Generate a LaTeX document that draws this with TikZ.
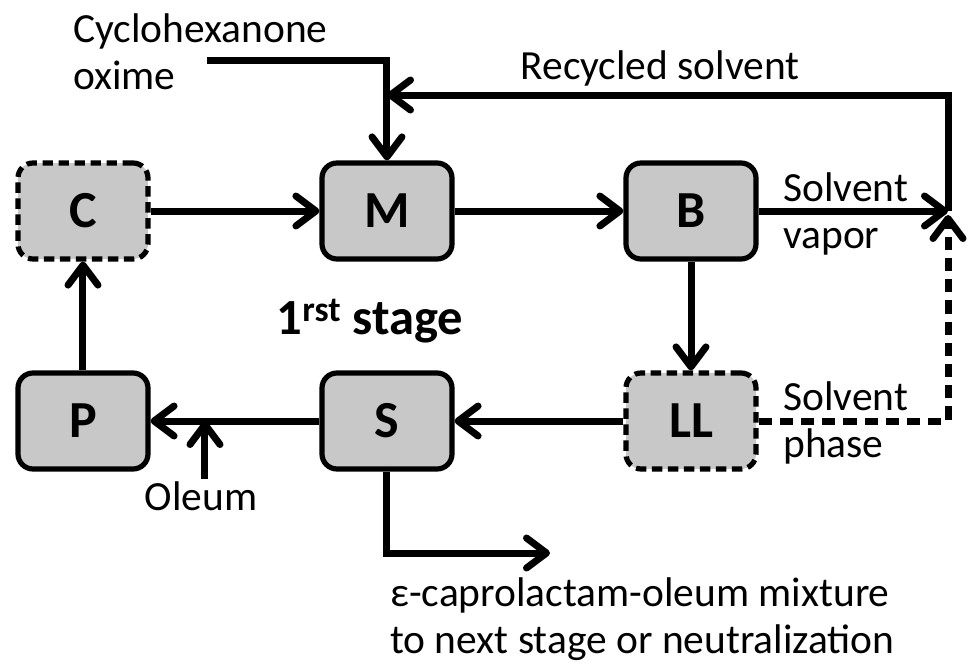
\documentclass[tikz,border=0pt]{standalone}
\usepackage{fontspec}
\setmainfont{Carlito}
\usepackage{tikz}
\usetikzlibrary{positioning,arrows.meta}
\definecolor{boxgray}{RGB}{200,200,200}
\newcommand{\labelfont}{\fontsize{29.5}{33.4}\selectfont}
\newcommand{\unitfont}{\fontsize{37}{40}\selectfont\bfseries}
\tikzset{
  unit/.style={draw, rounded corners=0.375cm, fill=boxgray, minimum width=3.25cm,
    minimum height=2.4cm, line width=0.13cm, font=\unitfont},
  dunit/.style={unit, dash pattern=on 0.26cm off 0.14cm},
  flow/.style={line width=0.175cm, -{Straight Barb[length=0.5cm, width=0.75cm, round]}},
  txt/.style={font=\labelfont, align=left, inner sep=0pt}
}

\begin{document}
\begin{tikzpicture}
        \useasboundingbox (-9.675,5.275) rectangle (14.825,-11.375);
        % units
        \node [unit] (M) at (0,0) {M};
        \node [dunit, on grid, left=7.6cm of M] (C) {C};
        \node [unit, on grid, right=7.6cm of M] (B) {B};
        \node [dunit, on grid, below=5.25cm of B] (LL) {LL};
        \node [unit, on grid, below=5.25cm of M] (S) {S};
        \node [unit, on grid, below=5.25cm of C] (P) {P};
        % points on the streams
        \coordinate [on grid, right=6.425cm of B] (J);
        \coordinate [on grid, above=2.9cm of M] (Rin);
        \coordinate (OxStart) at (-4.5,3.775);
        \coordinate (OlIn) at (-4.55,-5.25);
        \coordinate (Out) at (4.075,-8.55);
        % labels
        \node [txt, anchor=west] (Oxime) at (-7.85,3.99) {Cyclohexanone\\oxime};
        \node [txt] (Recycled) at (6.825,3.575) {Recycled solvent};
        \node [txt, anchor=west] (Vapor) at (9.9,-0.075) {Solvent\\vapor};
        \node [txt, anchor=west] (Phase) at (9.9,-5.31) {Solvent\\phase};
        \node [font=\fontsize{36}{40}\selectfont\bfseries, inner sep=0pt] (Stage) at (-0.425,-2.75) {1\textsuperscript{rst} stage};
        \node [txt, anchor=north] (Oleum) at (-4.65,-6.75) {Oleum};
        \node [txt, anchor=west] (Product) at (0.075,-10.21) {ε-caprolactam-oleum mixture\\to next stage or neutralization};
        % streams
        \draw [flow] (C) -- (M);
        \draw [flow] (M) -- (B);
        \draw [flow] (B) -- (J);
        \draw [flow] (B) -- (LL);
        \draw [flow] (LL) -- (S);
        \draw [flow] (S) -- (P);
        \draw [flow] (P) -- (C);
        \draw [flow] (OxStart) -| (M);
        \draw [flow] (J) |- (Rin);
        \draw [flow, dash pattern=on 0.33cm off 0.2cm, shorten >=0.1cm] (LL) -| (J);
        \draw [flow] (OlIn |- Oleum.north) ++(0,0.05) -- (OlIn);
        \draw [flow] (S) |- (Out);
      \end{tikzpicture}
\end{document}
